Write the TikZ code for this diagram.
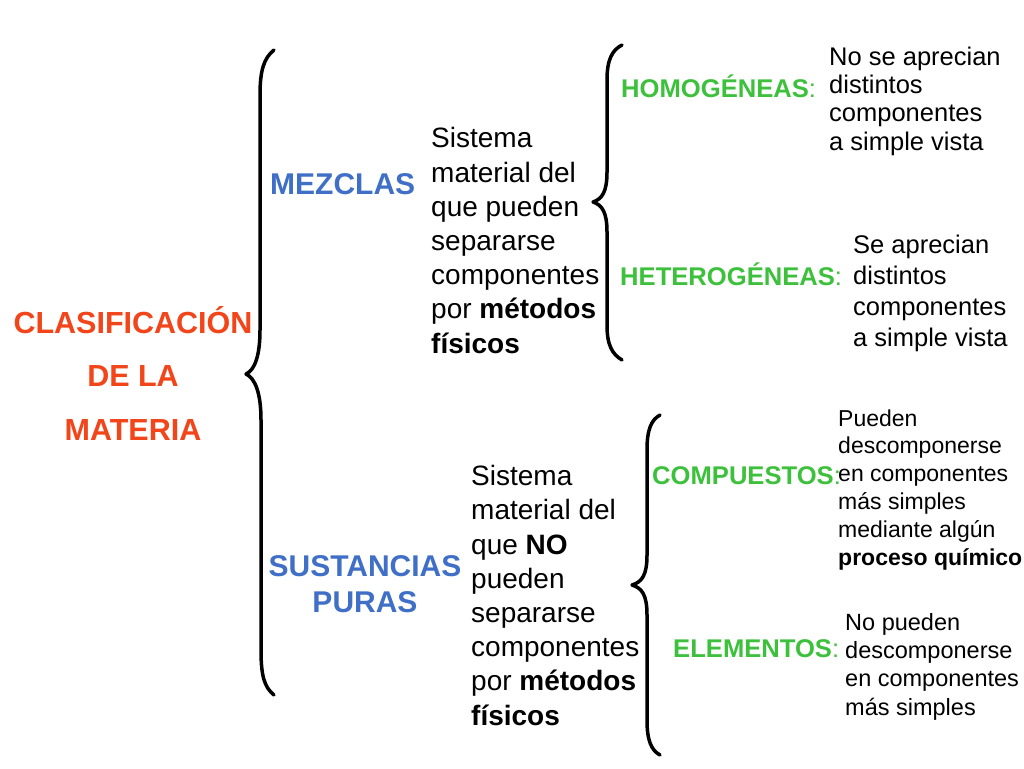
\documentclass[tikz,border=0pt]{standalone}
\usepackage{fontspec}
\setmainfont{Liberation Sans}
\usepackage{tikz}
\definecolor{titlered}{HTML}{F2451A}
\definecolor{kindblue}{HTML}{3F6FC6}
\definecolor{subgreen}{HTML}{3DC13C}

\begin{document}
\begin{tikzpicture}[
  x=1pt,y=-1pt,
  title/.style={anchor=base,align=center,inner sep=0pt,text=titlered,font=\fontsize{30.5}{53.5}\selectfont\bfseries},
  kind/.style={anchor=base west,align=center,inner sep=0pt,text=kindblue,font=\fontsize{30}{36}\selectfont\bfseries},
  defn/.style={anchor=base west,align=left,inner sep=0pt,font=\fontsize{28}{34.2}\selectfont},
  sub/.style={anchor=base west,inner sep=0pt,text=subgreen,font=\fontsize{25.6}{30}\selectfont\bfseries},
  note/.style={anchor=base west,align=left,inner sep=0pt,font=\fontsize{25.5}{28.3}\selectfont},
  brace/.style={line width=3.5pt,line cap=round,line join=round},
]
\useasboundingbox[fill=white] (0,0) rectangle (1024,768);

% multi-line nodes sit on the baseline of their last line
\node[title] (clasif) at (133,440) {CLASIFICACIÓN\\DE LA\\MATERIA};

\node[kind] (mezclas) at (270,194) {MEZCLAS};
\node[defn] (defmez) at (431,353) {Sistema\\material del\\que pueden\\separarse\\componentes\\por \textbf{métodos}\\\textbf{físicos}};
\node[sub] (homog) at (621,97) {HOMOGÉNEAS{\mdseries:}};
\node[note] (nothomog) at (829,150) {No se aprecian\\distintos\\componentes\\a simple vista};
\node[sub] (heterog) at (620,285) {HETEROGÉNEAS{\mdseries:}};
\node[note,font=\fontsize{25.5}{31}\selectfont] (notheterog) at (853,346) {Se aprecian\\distintos\\componentes\\a simple vista};

\node[kind,anchor=base] (puras) at (365,612) {SUSTANCIAS\\PURAS};
\node[defn] (defpur) at (471,725) {Sistema\\material del\\que \textbf{NO}\\pueden\\separarse\\componentes\\por \textbf{métodos}\\\textbf{físicos}};
\node[sub] (compu) at (652,484) {COMPUESTOS{\mdseries:}};
\node[note,font=\fontsize{23}{27.8}\selectfont] (notcompu) at (838,565) {Pueden\\descomponerse\\en componentes\\más simples\\mediante algún\\\textbf{proceso químico}};
\node[sub] (elem) at (673,657) {ELEMENTOS{\mdseries:}};
\node[note,font=\fontsize{23.5}{28.3}\selectfont] (notelem) at (845,715) {No pueden\\descomponerse\\en componentes\\más simples};

% braces
\draw[brace] (274,50) .. controls (264,58) and (260,70) .. (260,95) -- (260,330)
  .. controls (260,355) and (255,370) .. (246,374)
  .. controls (255,378) and (261,393) .. (261,420) -- (261,650)
  .. controls (261,675) and (264,687) .. (274,695);
\draw[brace] (622,45) .. controls (612,50) and (607,60) .. (607,80) -- (607,172)
  .. controls (607,192) and (602,199) .. (593,202)
  .. controls (602,205) and (607,212) .. (607,232) -- (607,325)
  .. controls (607,345) and (612,354) .. (622,360);
\draw[brace] (660,415) .. controls (651,420) and (647,430) .. (647,450) -- (647,555)
  .. controls (647,575) and (642,582) .. (632,585)
  .. controls (642,588) and (647,595) .. (647,615) -- (647,720)
  .. controls (647,740) and (651,750) .. (660,755);
\end{tikzpicture}
\end{document}
